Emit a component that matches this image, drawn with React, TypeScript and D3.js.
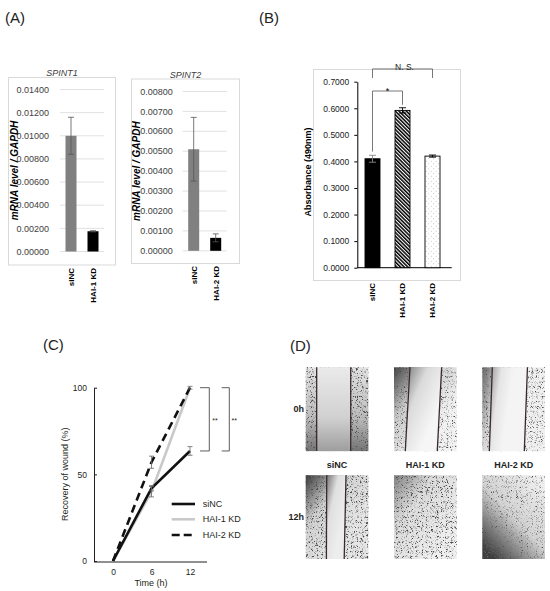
import React, { useRef, useEffect } from "react";
import * as d3 from "d3";

const FONT = "'Liberation Sans', Arial, Helvetica, sans-serif";

// (A) qPCR, SPINT1 / SPINT2
const spint1Groups = ["siNC", "HAI-1 KD"];
const spint1Values = [0.01, 0.00175];
const spint1Errors = [0.0016, 0.00005];
const spint1Ticks = [0, 0.002, 0.004, 0.006, 0.008, 0.01, 0.012, 0.014];

const spint2Groups = ["siNC", "HAI-2 KD"];
const spint2Values = [0.0051, 0.00065];
const spint2Errors = [0.0016, 0.0002];
const spint2Ticks = [0, 0.001, 0.002, 0.003, 0.004, 0.005, 0.006, 0.007, 0.008];

// (B) absorbance
const absGroups = ["siNC", "HAI-1 KD", "HAI-2 KD"];
const absValues = [0.41, 0.592, 0.42];
const absErrors = [0.013, 0.01, 0.004];
const absTicks = [0, 0.1, 0.2, 0.3, 0.4, 0.5, 0.6, 0.7];

// (C) wound recovery
const timePoints = [0, 6, 12];
const recoveryTicks = [0, 50, 100];
const seriesNames = ["siNC", "HAI-1 KD", "HAI-2 KD"];
const siNCRecovery = [0, 42, 63.5];
const siNCRecoveryErr = [0, 1.5, 2.5];
const hai1Recovery = [0, 40, 100];
const hai1RecoveryErr = [0, 3, 0.8];
const hai2Recovery = [0, 57, 100];
const hai2RecoveryErr = [0, 3.5, 0];

// (D) wound images
const woundTimes = ["0h", "12h"];
const woundGroups = ["siNC", "HAI-1 KD", "HAI-2 KD"];

type Sel = d3.Selection<SVGSVGElement, unknown, null, undefined>;

function drawQpcr(
  svg: Sel,
  cfg: {
    box: number[];
    title: string;
    groups: string[];
    values: number[];
    errors: number[];
    ticks: number[];
    yRange: [number, number];
    gridX: [number, number];
    tickX: number;
    yLabelX: number;
    labelTop: number;
  }
) {
  const g = svg.append("g");
  const [bx0, by0, bx1, by1] = cfg.box;
  g.append("rect")
    .attr("x", bx0)
    .attr("y", by0)
    .attr("width", bx1 - bx0)
    .attr("height", by1 - by0)
    .attr("fill", "#fff")
    .attr("stroke", "#d9d9d9");
  g.append("text")
    .attr("x", (bx0 + bx1) / 2)
    .attr("y", by0 - 1.5)
    .attr("text-anchor", "middle")
    .attr("font-size", 9)
    .attr("font-style", "italic")
    .attr("fill", "#404040")
    .text(cfg.title);

  const y = d3.scaleLinear().domain([0, cfg.ticks[cfg.ticks.length - 1]]).range(cfg.yRange);
  const x = d3.scaleBand<string>().domain(cfg.groups).range(cfg.gridX).paddingInner(0.5).paddingOuter(0.25);

  g.selectAll(".grid")
    .data(cfg.ticks)
    .enter()
    .append("line")
    .attr("x1", cfg.gridX[0])
    .attr("x2", cfg.gridX[1])
    .attr("y1", (d) => y(d))
    .attr("y2", (d) => y(d))
    .attr("stroke", "#d9d9d9")
    .attr("stroke-width", 0.8);
  g.selectAll(".tl")
    .data(cfg.ticks)
    .enter()
    .append("text")
    .attr("x", cfg.tickX)
    .attr("y", (d) => y(d))
    .attr("dy", "0.35em")
    .attr("text-anchor", "end")
    .attr("font-size", 9)
    .attr("fill", "#404040")
    .text((d) => d3.format(".5f")(d));

  const colors = ["#808080", "#000"];
  cfg.groups.forEach((grp, i) => {
    const v = cfg.values[i];
    const e = cfg.errors[i];
    const cx = (x(grp) ?? 0) + x.bandwidth() / 2;
    g.append("rect")
      .attr("x", x(grp) ?? 0)
      .attr("y", y(v))
      .attr("width", x.bandwidth())
      .attr("height", y(0) - y(v))
      .attr("fill", colors[i]);
    g.append("path")
      .attr("d", `M${cx},${y(v - e)}V${y(v + e)}M${cx - 3},${y(v + e)}h6M${cx - 3},${y(v - e)}h6`)
      .attr("stroke", "#555")
      .attr("stroke-width", 0.8)
      .attr("fill", "none");
    g.append("text")
      .attr("transform", `translate(${cx},${cfg.labelTop}) rotate(-90)`)
      .attr("text-anchor", "end")
      .attr("dy", "0.35em")
      .attr("font-size", 8)
      .attr("font-weight", "bold")
      .text(grp);
  });

  g.append("text")
    .attr("transform", `translate(${cfg.yLabelX},${(cfg.yRange[0] + cfg.yRange[1]) / 2}) rotate(-90)`)
    .attr("text-anchor", "middle")
    .attr("dy", "0.35em")
    .attr("font-size", 10)
    .attr("font-weight", "bold")
    .attr("font-style", "italic")
    .text("mRNA level / GAPDH");
}

const App: React.FC = () => {
  const svgRef = useRef<SVGSVGElement | null>(null);

  useEffect(() => {
    if (!svgRef.current) return;
    const svg = d3.select(svgRef.current) as Sel;
    svg.selectAll("*").remove();
    svg.attr("width", 550).attr("height", 591).style("font-family", FONT);
    svg.append("rect").attr("width", 550).attr("height", 591).attr("fill", "#fff");

    const defs = svg.append("defs");

    // panel letters
    const letters: [string, number, number][] = [
      ["(A)", 5, 23],
      ["(B)", 259, 23],
      ["(C)", 43, 350],
      ["(D)", 290, 351],
    ];
    letters.forEach(([t, x, y]) =>
      svg.append("text").attr("x", x).attr("y", y).attr("font-size", 15).attr("fill", "#222").text(t)
    );

    // ---------- (A)
    drawQpcr(svg, {
      box: [8.5, 77.5, 115.5, 265],
      title: "SPINT1",
      groups: spint1Groups,
      values: spint1Values,
      errors: spint1Errors,
      ticks: spint1Ticks,
      yRange: [251.5, 89.5],
      gridX: [60, 104],
      tickX: 49,
      yLabelX: 14,
      labelTop: 268,
    });
    drawQpcr(svg, {
      box: [131.5, 79, 239.5, 263.5],
      title: "SPINT2",
      groups: spint2Groups,
      values: spint2Values,
      errors: spint2Errors,
      ticks: spint2Ticks,
      yRange: [250.8, 91.5],
      gridX: [182.7, 226.7],
      tickX: 172.7,
      yLabelX: 136,
      labelTop: 266,
    });

    // ---------- (B)
    const hatch = defs
      .append("pattern")
      .attr("id", "hatch")
      .attr("patternUnits", "userSpaceOnUse")
      .attr("width", 2.6)
      .attr("height", 10)
      .attr("patternTransform", "rotate(-45)");
    hatch.append("rect").attr("width", 2.6).attr("height", 10).attr("fill", "#fff");
    hatch.append("rect").attr("width", 1.5).attr("height", 10).attr("fill", "#000");
    const dots = defs
      .append("pattern")
      .attr("id", "dots")
      .attr("patternUnits", "userSpaceOnUse")
      .attr("width", 5)
      .attr("height", 5);
    dots.append("rect").attr("width", 5).attr("height", 5).attr("fill", "#fff");
    dots.append("circle").attr("cx", 1.2).attr("cy", 1.2).attr("r", 0.45).attr("fill", "#999");
    dots.append("circle").attr("cx", 3.7).attr("cy", 3.7).attr("r", 0.45).attr("fill", "#999");

    const gB = svg.append("g");
    gB.append("rect")
      .attr("x", 313.5)
      .attr("y", 69.5)
      .attr("width", 147)
      .attr("height", 211)
      .attr("fill", "#fff")
      .attr("stroke", "#d9d9d9");
    const yB = d3.scaleLinear().domain([0, 0.7]).range([267.7, 81.7]);
    const xB = d3.scaleBand<string>().domain(absGroups).range([357.5, 447.5]).paddingInner(0.5).paddingOuter(0.25);
    const axB = gB
      .append("g")
      .attr("transform", "translate(357.3,0)")
      .call(
        d3
          .axisLeft(yB)
          .tickValues(absTicks)
          .tickSize(3)
          .tickSizeOuter(0)
          .tickPadding(5)
          .tickFormat((d) => d3.format(".4f")(d as number))
      );
    axB.selectAll("text").attr("font-size", 8.5).attr("font-family", FONT).attr("fill", "#222");
    axB.select(".domain").attr("stroke", "#000");
    gB.append("line").attr("x1", 357.3).attr("x2", 451.7).attr("y1", yB(0)).attr("y2", yB(0)).attr("stroke", "#000");

    const fillsB = ["#000", "url(#hatch)", "url(#dots)"];
    absGroups.forEach((grp, i) => {
      const v = absValues[i];
      const e = absErrors[i];
      const x0 = xB(grp) ?? 0;
      const cx = x0 + xB.bandwidth() / 2;
      gB.append("rect")
        .attr("x", x0)
        .attr("y", yB(v))
        .attr("width", xB.bandwidth())
        .attr("height", yB(0) - yB(v))
        .attr("fill", fillsB[i])
        .attr("stroke", "#000")
        .attr("stroke-width", 0.9);
      gB.append("path")
        .attr("d", `M${cx},${yB(v - e)}V${yB(v + e)}M${cx - 3.5},${yB(v + e)}h7M${cx - 3.5},${yB(v - e)}h7`)
        .attr("stroke", i === 0 ? "#888" : "#000")
        .attr("stroke-width", 0.9)
        .attr("fill", "none");
      gB.append("text")
        .attr("transform", `translate(${cx},283) rotate(-90)`)
        .attr("text-anchor", "end")
        .attr("dy", "0.35em")
        .attr("font-size", 8)
        .attr("font-weight", "bold")
        .text(grp);
    });
    const cB = absGroups.map((grp) => (xB(grp) ?? 0) + xB.bandwidth() / 2);
    gB.append("path")
      .attr("d", `M${cB[0]},${yB(0.437)}V${yB(0.665)}H${cB[1]}V${yB(0.613)}`)
      .attr("stroke", "#555")
      .attr("stroke-width", 0.8)
      .attr("fill", "none");
    gB.append("text")
      .attr("x", (cB[0] + cB[1]) / 2)
      .attr("y", yB(0.665) + 2.5)
      .attr("text-anchor", "middle")
      .attr("font-size", 9)
      .text("*");
    gB.append("path")
      .attr("d", `M${cB[0]},${yB(0.714)}V${yB(0.748)}H${cB[2]}V${yB(0.714)}`)
      .attr("stroke", "#555")
      .attr("stroke-width", 0.8)
      .attr("fill", "none");
    gB.append("text")
      .attr("x", (cB[0] + cB[2]) / 2 + 2)
      .attr("y", yB(0.748) + 1.5)
      .attr("text-anchor", "middle")
      .attr("font-size", 8.5)
      .attr("fill", "#222")
      .text("N. S.");
    gB.append("text")
      .attr("transform", "translate(308,172) rotate(-90)")
      .attr("text-anchor", "middle")
      .attr("dy", "0.35em")
      .attr("font-size", 9)
      .attr("font-weight", "bold")
      .text("Absorbance (490nm)");

    // ---------- (C)
    const gC = svg.append("g").attr("fill", "#231f20");
    const xC = d3.scaleLinear().domain([0, 12]).range([113, 190]);
    const yC = d3.scaleLinear().domain([0, 100]).range([561, 387.7]);
    const axY = gC
      .append("g")
      .attr("transform", "translate(94,0)")
      .call(d3.axisLeft(yC).tickValues(recoveryTicks).tickSize(-3).tickSizeOuter(0).tickPadding(7));
    axY.selectAll("text").attr("font-size", 8.5).attr("font-family", FONT).attr("fill", "#231f20");
    axY.selectAll("line,path").attr("stroke", "#231f20");
    const axX = gC
      .append("g")
      .attr("transform", "translate(0,562)")
      .call(d3.axisBottom(xC).tickValues(timePoints).tickSize(0).tickPadding(7));
    axX.select(".domain").remove();
    axX.selectAll("text").attr("font-size", 8.5).attr("font-family", FONT).attr("fill", "#231f20");
    gC.append("line").attr("x1", 94).attr("x2", 207).attr("y1", 562).attr("y2", 562).attr("stroke", "#231f20");

    const seriesVals = [siNCRecovery, hai1Recovery, hai2Recovery];
    const seriesErrs = [siNCRecoveryErr, hai1RecoveryErr, hai2RecoveryErr];
    const seriesStroke = ["#111", "#c9c9c9", "#111"];
    const seriesDash = [null, null, "8,5"];
    const line = d3
      .line<number>()
      .x((_, i) => xC(timePoints[i]))
      .y((d) => yC(d));
    [1, 0, 2].forEach((s) => {
      gC.append("path")
        .attr("d", line(seriesVals[s]))
        .attr("fill", "none")
        .attr("stroke", seriesStroke[s])
        .attr("stroke-width", 2.6)
        .attr("stroke-dasharray", seriesDash[s]);
    });
    [0, 1, 2].forEach((s) => {
      timePoints.forEach((t, i) => {
        const e = seriesErrs[s][i];
        if (!e) return;
        const v = seriesVals[s][i];
        const cx = xC(t);
        gC.append("path")
          .attr("d", `M${cx},${yC(v - e)}V${yC(v + e)}M${cx - 2.5},${yC(v + e)}h5M${cx - 2.5},${yC(v - e)}h5`)
          .attr("stroke", "#666")
          .attr("stroke-width", 0.8)
          .attr("fill", "none");
      });
    });
    const legendY = [504, 519.3, 535];
    seriesNames.forEach((name, s) => {
      gC.append("line")
        .attr("x1", 171.7)
        .attr("x2", 195)
        .attr("y1", legendY[s])
        .attr("y2", legendY[s])
        .attr("stroke", seriesStroke[s])
        .attr("stroke-width", 2.6)
        .attr("stroke-dasharray", s === 2 ? "8,4" : null);
      gC.append("text")
        .attr("x", 202.7)
        .attr("y", legendY[s])
        .attr("dy", "0.35em")
        .attr("font-size", 9)
        .text(name);
    });
    const brTop = yC(hai1Recovery[2]);
    const brBot = yC(siNCRecovery[2]);
    [
      [200, 209.3, 215],
      [221.7, 229.3, 234.3],
    ].forEach(([a, b, tx]) => {
      gC.append("path")
        .attr("d", `M${a},${brTop}H${b}V${brBot}H${a}`)
        .attr("stroke", "#333")
        .attr("stroke-width", 0.8)
        .attr("fill", "none");
      gC.append("text")
        .attr("x", tx)
        .attr("y", (brTop + brBot) / 2 + 4)
        .attr("text-anchor", "middle")
        .attr("font-size", 7)
        .text("**");
    });
    gC.append("text")
      .attr("transform", `translate(65,${(yC(0) + yC(100)) / 2}) rotate(-90)`)
      .attr("text-anchor", "middle")
      .attr("dy", "0.35em")
      .attr("font-size", 9)
      .text("Recovery of wound (%)");
    gC.append("text").attr("x", 151).attr("y", 586).attr("text-anchor", "middle").attr("font-size", 9).text("Time (h)");

    // ---------- (D) micrographs
    const makeSpeckle = (id: string, slope: number, bias: number, tone: number, seed: number) => {
      const f = defs
        .append("filter")
        .attr("id", id)
        .attr("x", 0)
        .attr("y", 0)
        .attr("width", 1)
        .attr("height", 1)
        .attr("color-interpolation-filters", "sRGB");
      f.append("feTurbulence")
        .attr("type", "fractalNoise")
        .attr("baseFrequency", 1.8)
        .attr("numOctaves", 1)
        .attr("seed", seed)
        .attr("result", "n");
      f.append("feColorMatrix")
        .attr("in", "n")
        .attr("type", "matrix")
        .attr("values", `0 0 0 0 ${tone}  0 0 0 0 ${tone}  0 0 0 0 ${tone}  ${-slope} 0 0 0 ${bias}`)
        .attr("result", "d");
      f.append("feComposite").attr("in", "d").attr("in2", "SourceAlpha").attr("operator", "in");
    };
    // soft grain everywhere plus sparser dark specks
    makeSpeckle("grain", 4, 1.75, 0.45, 5);
    makeSpeckle("speckleDense", 12, 4.6, 0.3, 3);
    makeSpeckle("speckleMid", 12, 4.2, 0.3, 11);
    makeSpeckle("speckleLight", 12, 3.9, 0.3, 19);

    const xD = d3.scaleBand<string>().domain(woundGroups).range([305.7, 545]).paddingInner(0.29);
    const yD = d3.scaleBand<string>().domain(woundTimes).range([367.3, 559]).paddingInner(0.223);

    // look of each photo: gradient direction, stops, speckle density, wound edges (fractions of width)
    const looks: Record<string, { dir: number[]; stops: [number, string][]; speck: string; edges: number[] | null }> = {
      "0h|siNC": {
        dir: [0, 0, 0, 1],
        stops: [[0, "#e2e2e2"], [0.6, "#bdbdbd"], [1, "#747474"]],
        speck: "speckleDense",
        edges: [0.175, 0.175, 0.718, 0.718],
      },
      "0h|HAI-1 KD": {
        dir: [0, 0, 0.7, 0.7],
        stops: [[0, "#404040"], [0.45, "#cbcbcb"], [1, "#f2f2f2"]],
        speck: "speckleMid",
        edges: [0.255, 0.18, 0.76, 0.69],
      },
      "0h|HAI-2 KD": {
        dir: [0, 0, 0.6, 0.2],
        stops: [[0, "#646464"], [0.5, "#dadada"], [1, "#f0f0f0"]],
        speck: "speckleMid",
        edges: [0.16, 0.112, 0.72, 0.67],
      },
      "12h|siNC": {
        dir: [0, 0, 0.7, 0.7],
        stops: [[0, "#353535"], [0.45, "#d2d2d2"], [1, "#e6e6e6"]],
        speck: "speckleDense",
        edges: [0.335, 0.33, 0.643, 0.614],
      },
      "12h|HAI-1 KD": {
        dir: [0, 0, 0.8, 0.8],
        stops: [[0, "#828282"], [0.4, "#dcdcdc"], [1, "#efefef"]],
        speck: "speckleDense",
        edges: null,
      },
      "12h|HAI-2 KD": {
        dir: [1, 0, 0.2, 1],
        stops: [[0, "#f4f4f4"], [0.55, "#d2d2d2"], [1, "#3e3e3e"]],
        speck: "speckleLight",
        edges: null,
      },
    };

    const gD = svg.append("g");
    woundTimes.forEach((t) => {
      woundGroups.forEach((grp, gi) => {
        const key = `${t}|${grp}`;
        const look = looks[key];
        const gid = `grad${t}${gi}`;
        const lg = defs
          .append("linearGradient")
          .attr("id", gid)
          .attr("x1", look.dir[0])
          .attr("y1", look.dir[1])
          .attr("x2", look.dir[2])
          .attr("y2", look.dir[3]);
        look.stops.forEach(([o, c]) => lg.append("stop").attr("offset", o).attr("stop-color", c));
        const x = xD(grp) ?? 0;
        const y = yD(t) ?? 0;
        const w = xD.bandwidth();
        const h = yD.bandwidth();
        gD.append("rect").attr("x", x).attr("y", y).attr("width", w).attr("height", h).attr("fill", `url(#${gid})`);
        ["grain", look.speck].forEach((f) =>
          gD.append("rect")
            .attr("x", x)
            .attr("y", y)
            .attr("width", w)
            .attr("height", h)
            .attr("fill", "#000")
            .attr("filter", `url(#${f})`)
        );
        if (look.edges) {
          const [lt, lb, rt, rb] = look.edges;
          const pts: [number, number][] = [
            [x + lt * w, y],
            [x + rt * w, y],
            [x + rb * w, y + h],
            [x + lb * w, y + h],
          ];
          const poly = pts.map((p) => p.join(",")).join(" ");
          gD.append("polygon").attr("points", poly).attr("fill", `url(#${gid})`);
          gD.append("polygon").attr("points", poly).attr("fill", "#fff").attr("opacity", 0.3);
          gD.append("line")
            .attr("x1", pts[0][0]).attr("y1", y).attr("x2", pts[3][0]).attr("y2", y + h)
            .attr("stroke", "#3a2b2b").attr("stroke-width", 1.3);
          gD.append("line")
            .attr("x1", pts[1][0]).attr("y1", y).attr("x2", pts[2][0]).attr("y2", y + h)
            .attr("stroke", "#3a2b2b").attr("stroke-width", 1.3);
        }
      });
    });
    woundGroups.forEach((grp) => {
      gD.append("text")
        .attr("x", (xD(grp) ?? 0) + xD.bandwidth() / 2)
        .attr("y", 468)
        .attr("text-anchor", "middle")
        .attr("font-size", 9)
        .attr("font-weight", "bold")
        .attr("fill", "#222")
        .text(grp);
    });
    woundTimes.forEach((t) => {
      gD.append("text")
        .attr("x", 304)
        .attr("y", (yD(t) ?? 0) + yD.bandwidth() / 2)
        .attr("dy", "0.35em")
        .attr("text-anchor", "end")
        .attr("font-size", 9)
        .attr("font-weight", "bold")
        .attr("fill", "#222")
        .text(t);
    });
  }, []);

  return <svg ref={svgRef} style={{ position: "absolute", left: 0, top: 0 }} />;
};

export default App;
